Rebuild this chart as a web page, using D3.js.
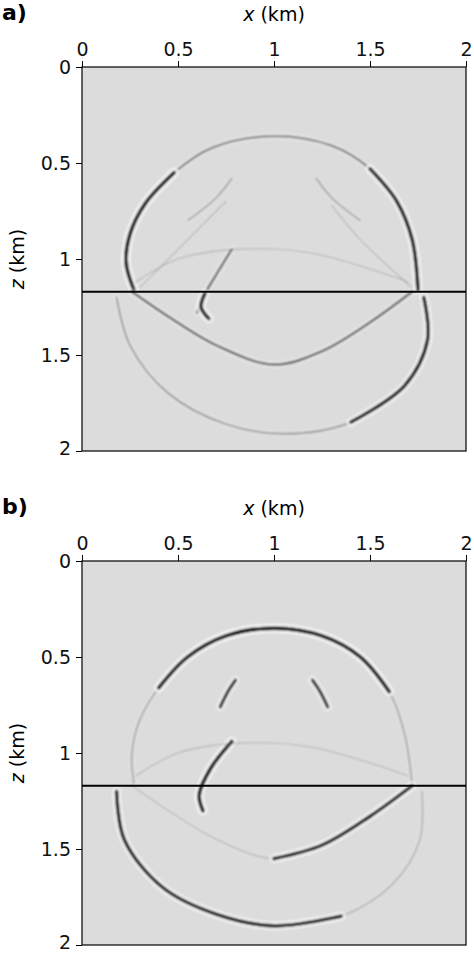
<!DOCTYPE html>
<html><head><meta charset="utf-8">
<script src="https://cdn.jsdelivr.net/npm/d3@7"></script>
<style>
body{margin:0;background:#fff}
text{font-family:"DejaVu Sans",sans-serif}
</style></head>
<body><svg id="fig" width="474" height="959"></svg>
<script>
// axis ticks (km)
const xTicks = [0, 0.5, 1, 1.5, 2];
const zTicks = [0, 0.5, 1, 1.5, 2];
const interfaceZ = 1.17;

// wavefront curves, [x, z] in km
const domeA = [[0.27,1.16],[0.23,1.02],[0.25,0.87],[0.33,0.71],[0.48,0.55],[0.68,0.42],[1.0,0.36],[1.3,0.41],[1.5,0.53],[1.64,0.7],[1.72,0.9],[1.75,1.16]];
const lowerA = [[0.26,1.17],[0.45,1.3],[0.7,1.45],[1.0,1.55],[1.25,1.48],[1.5,1.33],[1.72,1.17]];
const outerA = [[0.18,1.2],[0.25,1.45],[0.45,1.7],[0.75,1.86],[1.05,1.91],[1.4,1.85],[1.68,1.66],[1.8,1.42],[1.78,1.2]];
const cuspLeftA = [[0.6,1.28],[0.63,1.2],[0.7,1.08],[0.78,0.95]];
const cuspLeft2A = [[0.66,1.31],[0.62,1.25],[0.64,1.18]];
const crossA1 = [[0.28,1.12],[0.5,1.0],[0.8,0.95],[1.2,0.97],[1.7,1.12]];
const crossA2 = [[0.55,0.8],[0.7,0.68],[0.78,0.58]];
const crossA3 = [[1.45,0.8],[1.3,0.68],[1.22,0.58]];
const crossA4 = [[0.3,1.15],[0.6,0.85],[0.75,0.7]];
const crossA5 = [[1.72,1.15],[1.45,0.9],[1.3,0.72]];

const domeB = [[0.27,1.16],[0.26,1.0],[0.3,0.83],[0.4,0.66],[0.55,0.5],[0.75,0.39],[1.0,0.35],[1.25,0.39],[1.45,0.5],[1.6,0.68],[1.68,0.9],[1.72,1.17]];
const lowerB = [[0.26,1.17],[0.45,1.3],[0.7,1.45],[1.0,1.55],[1.25,1.48],[1.5,1.33],[1.72,1.17]];
const outerB = [[0.18,1.2],[0.22,1.45],[0.42,1.7],[0.7,1.84],[1.0,1.9],[1.35,1.85],[1.62,1.68],[1.76,1.45],[1.77,1.2]];
const cuspLeftB = [[0.63,1.3],[0.61,1.22],[0.67,1.08],[0.78,0.94]];
const cuspUpL = [[0.72,0.76],[0.76,0.68],[0.8,0.62]];
const cuspUpR = [[1.28,0.76],[1.24,0.68],[1.2,0.62]];
const crossB1 = [[0.28,1.12],[0.5,1.0],[0.8,0.95],[1.2,0.97],[1.7,1.12]];

const panels = [
  {label:"a)", top:67, curves:[
    {pts:domeA, a:0.45},{pts:domeA.slice(0,5), a:1.0},{pts:domeA.slice(8), a:0.95},
    {pts:lowerA, a:0.55},{pts:outerA, a:0.35},{pts:outerA.slice(5), a:0.9},
    {pts:cuspLeftA, a:0.55},{pts:cuspLeft2A, a:0.95},{pts:crossA1, a:0.2},{pts:crossA2, a:0.3},
    {pts:crossA3, a:0.3},{pts:crossA4, a:0.2},{pts:crossA5, a:0.2}]},
  {label:"b)", top:561, curves:[
    {pts:domeB, a:0.3},{pts:domeB.slice(3,10), a:1.0},
    {pts:lowerB, a:0.2},{pts:lowerB.slice(3), a:0.9},
    {pts:outerB, a:0.25},{pts:outerB.slice(0,6), a:0.9},
    {pts:cuspLeftB, a:1.0},{pts:cuspUpL, a:0.8},{pts:cuspUpR, a:0.8},{pts:crossB1, a:0.2}]}
];

const svg = d3.select("#fig");
const defs = svg.append("defs");
defs.append("filter").attr("id","blur").append("feGaussianBlur").attr("stdDeviation",1.0);

const left = 82, size = 384;
const x = d3.scaleLinear().domain([0,2]).range([left, left+size]);

panels.forEach((p, i) => {
  const z = d3.scaleLinear().domain([0,2]).range([p.top, p.top+size]);
  const g = svg.append("g");
  defs.append("clipPath").attr("id","clip"+i).append("rect")
    .attr("x",left).attr("y",p.top).attr("width",size).attr("height",size);

  g.append("rect").attr("x",left).attr("y",p.top).attr("width",size).attr("height",size)
    .attr("fill","#dcdcdc");

  const line = d3.line().x(d => x(d[0])).y(d => z(d[1])).curve(d3.curveCatmullRom);
  const w = g.append("g").attr("clip-path",`url(#clip${i})`).attr("filter","url(#blur)");
  p.curves.forEach(c => {
    // white side lobes then dark centre
    w.append("path").attr("d",line(c.pts)).attr("fill","none").attr("stroke-linecap","round")
      .attr("stroke","#fff").attr("stroke-opacity",0.9*c.a).attr("stroke-width",3+6*c.a);
    w.append("path").attr("d",line(c.pts)).attr("fill","none").attr("stroke-linecap","round")
      .attr("stroke","#000").attr("stroke-opacity",Math.min(1,1.1*c.a)).attr("stroke-width",1+3*c.a);
  });

  g.append("line").attr("x1",left).attr("x2",left+size)
    .attr("y1",z(interfaceZ)).attr("y2",z(interfaceZ)).attr("stroke","#000").attr("stroke-width",2);

  g.append("rect").attr("x",left).attr("y",p.top).attr("width",size).attr("height",size)
    .attr("fill","none").attr("stroke","#000").attr("stroke-width",1.2);

  const xa = g.append("g").attr("transform",`translate(0,${p.top})`)
    .call(d3.axisTop(x).tickValues(xTicks).tickFormat(d3.format("")).tickSize(6));
  const za = g.append("g").attr("transform",`translate(${left},0)`)
    .call(d3.axisLeft(z).tickValues(zTicks).tickFormat(d3.format("")).tickSize(6));
  [xa, za].forEach(a => {
    a.select(".domain").remove();
    a.selectAll("text").attr("font-size",19).attr("fill","#111").attr("font-family","DejaVu Sans");
  });
  xa.selectAll("text").attr("dy","-0.1em");
  za.selectAll("text").attr("dx",-2);
  za.selectAll(".tick:last-of-type text").attr("dy","0.2em");

  g.append("text").attr("x",x(1)).attr("y",p.top-46).attr("text-anchor","middle")
    .attr("font-size",19).html('<tspan font-style="italic">x</tspan> (km)');
  g.append("text").attr("transform",`translate(24,${z(1)}) rotate(-90)`).attr("text-anchor","middle")
    .attr("font-size",19).html('<tspan font-style="italic">z</tspan> (km)');
  g.append("text").attr("x",2).attr("y",p.top-47).attr("font-family","Liberation Serif")
    .attr("font-weight","bold").attr("font-size",22).text(p.label);
});
</script></body></html>
